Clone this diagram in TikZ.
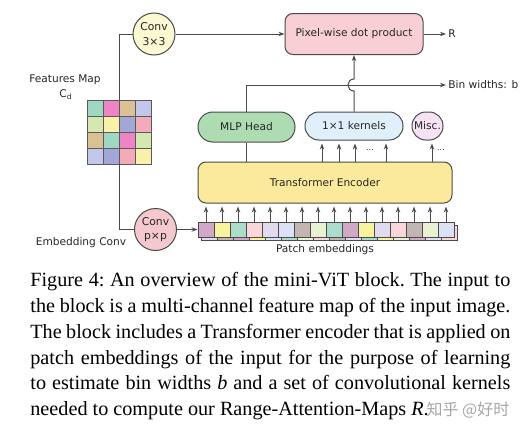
\documentclass[tikz,border=0pt]{standalone}
\usepackage{fontspec}
\setmainfont{Liberation Serif}
\newfontfamily\diagfont{DejaVu Sans}
\newfontfamily\cjkfont{Noto Sans CJK SC}
\usepackage{tikz}
\usetikzlibrary{calc}
\usetikzlibrary{shapes.geometric, arrows.meta, positioning}

\definecolor{linegray}{HTML}{4A4A4A}
\definecolor{gridgray}{HTML}{5A5A5A}
\definecolor{convyellow}{HTML}{FBF8D2}
\definecolor{convpink}{HTML}{F5C8CF}
\definecolor{dotpink}{HTML}{F9CFD6}
\definecolor{mlpgreen}{HTML}{ADDCB3}
\definecolor{kernblue}{HTML}{DFF0FA}
\definecolor{miscpink}{HTML}{F5E2F2}
\definecolor{encyellow}{HTML}{FBEA9C}
% feature map colours
\definecolor{fmint}{HTML}{9FD8C2}
\definecolor{fmag}{HTML}{EE84C6}
\definecolor{ftan}{HTML}{DCC095}
\definecolor{fperi}{HTML}{C3C7EC}
\definecolor{fgreen}{HTML}{D5E8B2}
\definecolor{fyel}{HTML}{F9F1A9}
\definecolor{fviol}{HTML}{A3A7D6}
\definecolor{frose}{HTML}{F4AAB9}
% patch colours
\definecolor{pmauve}{HTML}{D2A8C8}
\definecolor{pyel}{HTML}{F8F39C}
\definecolor{pmint}{HTML}{ACDCCA}
\definecolor{ppink}{HTML}{F9D6DA}
\definecolor{plav}{HTML}{E2DAEE}
\definecolor{pblue}{HTML}{DDE1F6}
\definecolor{ptaupe}{HTML}{C2B5B2}
\definecolor{pcream}{HTML}{E8F1D2}

\begin{document}
\begin{tikzpicture}[x=0.5pt,y=-0.5pt,
    font=\diagfont\fontsize{5.3}{6.5}\selectfont,
    every node/.style={text=black!85},
    conn/.style={draw=linegray, line width=0.5pt},
    arr/.style={conn, -{Stealth[length=3pt,width=2.2pt]}},
    convcirc/.style={circle, draw=linegray, line width=0.5pt, minimum size=21pt, inner sep=0pt, align=center, font=\diagfont\fontsize{5.4}{7.3}\selectfont},
    roundbox/.style={rectangle, rounded corners=4pt, draw=linegray, line width=0.5pt, inner sep=0pt},
    pillbox/.style={rectangle, rounded corners=6.9pt, draw=linegray, line width=0.5pt, inner sep=0pt, minimum height=14pt},
    patch/.style={rectangle, draw=linegray, line width=0.4pt, minimum width=8pt, minimum height=7.5pt, inner sep=0pt},
    lbl/.style={inner sep=1pt}
]
\useasboundingbox (0,0) rectangle (530,434);

% Feature map (4x4 grid)
\foreach \clr [count=\n from 0] in {fmint,fmag,ftan,fperi,fgreen,fyel,fviol,frose,ftan,fmint,fmag,fgreen,fperi,fviol,frose,fyel}
{
    \pgfmathtruncatemacro{\cx}{mod(\n,4)}
    \pgfmathtruncatemacro{\cy}{div(\n,4)}
    \draw[draw=gridgray, line width=0.5pt, fill=\clr] ({87+16*\cx},{100+16*\cy}) rectangle ++(16,16);
}
\coordinate (fmtop) at (119,100);
\coordinate (fmbot) at (119,164);

% Convolutions
\node[convcirc, fill=convyellow] (conv3) at (154,34) {Conv\\3×3};
\node[convcirc, fill=convpink] (convp) at (155.5,229.5) {Conv\\p×p};

% Boxes
\node[roundbox, fill=dotpink, minimum width=69pt, minimum height=20.5pt] (dot) at (354,34) {Pixel-wise dot product};
\node[pillbox, fill=mlpgreen, minimum width=48.5pt, minimum height=15pt, rounded corners=7.4pt] (mlp) at (246.5,127) {MLP Head};
\node[pillbox, fill=kernblue, minimum width=49pt] (kern) at (354,126) {1×1 kernels};
\node[pillbox, fill=miscpink, minimum width=15.5pt] (misc) at (427.5,126) {Misc.};
\node[roundbox, fill=encyellow, minimum width=127pt, minimum height=20.5pt] (enc) at (325,182.5) {Transformer Encoder};

% Outputs
\node[lbl, anchor=west] (R) at (446,34) {R};
\node[lbl, anchor=west] (bins) at (446,85) {Bin widths: b};

% Patch embeddings, back layer
\foreach \clr [count=\n from 0] in {plav,ptaupe,pmauve,pyel,pblue,pmint,pcream,ppink,ptaupe,plav,pmint,pyel,pcream,pmauve,pblue,ppink}
{
    \draw[draw=linegray, line width=0.4pt, fill=\clr] ({201+16*\n},225) rectangle ++(16,15);
}
% Patch embeddings, front layer
\foreach \clr [count=\n from 0] in {pmauve,pyel,pmint,ppink,plav,pblue,ptaupe,pcream,pmint,pmauve,pyel,plav,ppink,ptaupe,pcream,pblue}
{
    \node[patch, fill=\clr] (p\n) at ({206+16*\n},229.5) {};
    \draw[arr, shorten >=1.5pt] (p\n.north) -- (p\n.north |- enc.south);
}

% Labels
\node (fmlabel) at (65,80) {Features Map};
\node (cdlabel) at (66,95) {C\textsubscript{d}};
\node (embconv) at (81,243) {Embedding Conv};
\node (patchlbl) at (325,250) {Patch embeddings};

% Connectors
\draw[conn] (fmtop) |- (conv3.west);
\draw[conn] (fmbot) |- (convp.west);
\draw[arr] (conv3.east) -- (dot.west);
\draw[arr] (convp.east) -- (p0.west);
\draw[arr] (dot.east) -- (R.west);
\draw[arr] (mlp.north) |- (bins.west);
\draw[conn] (mlp.south) -- (enc.north -| mlp.south);
\coordinate (hop) at (kern.north |- bins.west);
\draw[arr] (kern.north) -- ([yshift=-3pt]hop) .. controls +(-4pt,0) and +(-4pt,0) .. ([yshift=3pt]hop) -- (dot.south);

% Encoder outputs
\foreach \x in {322,339,355,386}
{
    \draw[arr, shorten >=1.5pt] (enc.north -| \x,0) -- (kern.south -| \x,0);
}
\draw[arr, shorten >=1.5pt] (enc.north -| 432,0) -- (misc.south -| 432,0);
\node[font=\diagfont\fontsize{4}{4}\selectfont] (kdots) at (370,150) {...};
\node[font=\diagfont\fontsize{4}{4}\selectfont] (mdots) at (441,150) {...};

% Caption
\node[anchor=north west, inner sep=0pt, text width=240pt, align=justify, text=black, font=\fontsize{10.1}{12.9}\selectfont\frenchspacing] (caption) at (30,272)
{Figure 4: An overview of the mini-ViT block. The input to\linebreak
the block is a multi-channel feature map of the input image.\linebreak
The block includes a Transformer encoder that is applied on\linebreak
patch embeddings of the input for the purpose of learning\linebreak
to estimate bin widths \textit{b} and a set of convolutional kernels\linebreak
needed to compute our Range-Attention-Maps \textit{R}.};
\node[font=\cjkfont\fontsize{8}{8}\selectfont, text=black!35] (mark) at (468,410) {知乎 @好时};

\end{tikzpicture}
\end{document}
